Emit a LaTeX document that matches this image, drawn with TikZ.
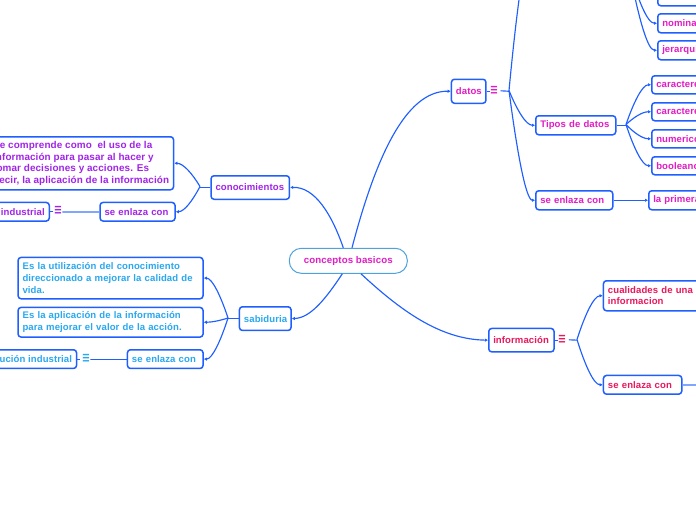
\documentclass[tikz,border=0pt]{standalone}
\usepackage{fontspec}
\setmainfont{Liberation Sans}[LetterSpace=1]
\newfontfamily\iconfont{DejaVu Sans}
\usetikzlibrary{arrows.meta,calc}
\definecolor{linkc}{HTML}{1F5FFF}
\definecolor{lightc}{HTML}{80A6FF}
\definecolor{rootb}{HTML}{4FA3DC}
\definecolor{cdat}{HTML}{E01CC4}
\definecolor{ccon}{HTML}{A024E8}
\definecolor{csab}{HTML}{28A8F0}
\definecolor{cinf}{HTML}{E8185C}
\newcommand{\menuicon}{\scalebox{1}[1.7]{≡}}
\tikzset{
  x=1pt,y=-1pt,
  base/.style={draw=linkc,line width=1.5pt,rounded corners=3pt,fill=white,inner ysep=0pt,inner xsep=4.5pt,
    font=\fontsize{9.55}{11.6}\selectfont\bfseries},
  bx/.style 2 args={base,anchor=north west,text width=#1pt-9pt,minimum height=#2pt,align=left},
  lf/.style={base,anchor=north east,minimum height=#1pt},
  rootn/.style={draw=rootb,line width=1pt,rounded corners=12pt,fill=white,minimum width=118pt,minimum height=25pt,
    inner sep=0pt,text=cdat,font=\fontsize{9.7}{11.6}\selectfont\bfseries},
  link/.style={draw=linkc,line width=1.15pt},
  tip/.style={-{Latex[length=3pt,width=3.5pt]}},
  lightlink/.style={draw=lightc,line width=1.5pt},
  icon/.style={inner sep=0pt,font=\fontsize{10}{10}\selectfont\iconfont},
}
\newcommand{\fork}[2]{\draw[link,tip] let \p1=(#1),\p2=(#2) in (\p1) .. controls ({\x1+0.3*(\x2-\x1)},{\y1+0.55*(\y2-\y1)}) and ({\x2-0.35*(\x2-\x1)},\y2) .. (\p2);}
\begin{document}
\begin{tikzpicture}
\useasboundingbox (0,0) rectangle (696,520);
\begin{scope}
\clip (0,0) rectangle (696,520);
% root
\node[rootn] (root) at (348.3,260.8) {conceptos basicos};
% datos
\node[bx={34.5}{24},text=cdat] (datos) at (450.7,78.5) {datos};
\node[bx={80}{19},text=cdat] (tipos) at (535,115) {Tipos de datos};
\node[bx={77}{19},text=cdat] (enlD) at (535,190) {se enlaza con};
\node[bx={120}{19},text=cdat] (prim) at (648,190) {la primera};
\node[bx={80}{18},text=cdat] (car1) at (651,75) {caracteres};
\node[bx={80}{18},text=cdat] (car2) at (651,102) {caracteres};
\node[bx={80}{18},text=cdat] (num) at (651,129) {numerico};
\node[bx={80}{18},text=cdat] (bool) at (651,156) {booleano};
\node[bx={80}{19},text=cdat] (nom) at (657,13) {nominal};
\node[bx={80}{19},text=cdat] (jer) at (657,40) {jerarquico};
\node[bx={80}{19}] (top) at (657,-14) {};
\node[icon,text=cdat] (icD) at (494,90.8) {\menuicon};
\coordinate (fkD) at (509,90.5);
\coordinate (fkT) at (626,124.5);
\coordinate (fkU) at (629,-32);
\coordinate (upD) at (535,-60);
% conocimientos
\node[bx={78.4}{23.5},text=ccon] (con) at (210.3,175) {conocimientos};
\node[base,anchor=north east,minimum height=53pt,align=left,text=ccon,font=\fontsize{9.9}{11.6}\selectfont\bfseries] (conT) at (174.3,136)
  {Se comprende como\ \ el uso de la\\información para pasar al hacer y\\tomar decisiones y acciones. Es\\decir, la aplicación de la información};
\node[bx={75}{18.6},text=ccon] (enlC) at (99.3,201.7) {se enlaza con};
\node[lf=18.6,text=ccon] (indC) at (50,201.7) {revolución industrial};
\node[icon,text=ccon] (icC) at (58,211) {\menuicon};
\coordinate (fkC) at (200,186.5);
% sabiduria
\node[bx={51.6}{23.7},text=csab] (sab) at (238.7,306) {sabiduria};
\node[bx={185}{41.3},text=csab] (sab1) at (17.3,256.7) {Es la utilización del conocimiento\\direccionado a mejorar la calidad de\\vida.};
\node[bx={185}{29.6},text=csab] (sab2) at (17.3,306.7) {Es la aplicación de la información\\para mejorar el valor de la acción.};
\node[bx={75.6}{18.7},text=csab] (enlS) at (126.7,349) {se enlaza con};
\node[lf=18.7,text=csab] (indS) at (77.3,349) {revolución industrial};
\node[icon,text=csab] (icS) at (86,358.5) {\menuicon};
\coordinate (fkS) at (228,318);
% informacion
\node[bx={65.3}{23.4},text=cinf] (inf) at (488,327.7) {información};
\node[bx={120}{30},text=cinf] (cual) at (602.7,280) {cualidades de una\\informacion};
\node[bx={78.3}{18.7},text=cinf] (enlI) at (602.7,374.7) {se enlaza con};
\node[icon,text=cinf] (icI) at (562,339.8) {\menuicon};
\coordinate (fkI) at (577,339.5);
\coordinate (offI) at (700,384);
% root links
\draw[link,tip] ($(root.north)+(3.7,0)$) .. controls (375,160) and (405,90.5) .. (datos.west);
\draw[link,tip] ($(root.north)+(-5,0)$) .. controls (332,215) and (315,186.5) .. (con.east);
\draw[link,tip] ($(root.south)+(-6,0)$) .. controls (325,300) and (310,318) .. (sab.east);
\draw[link,tip] ($(root.south)+(12.7,0)$) .. controls (400,310) and (440,339.5) .. (inf.west);
% datos links
\draw[link] (datos.east) -- +(3,0);
\draw[link] (icD.east -| datos.east) ++(14,0) -- (fkD |- datos.east);
\fork{fkD}{upD}
\fork{fkD}{tipos.west}
\fork{fkD}{enlD.west}
\draw[link] (tipos.east) -- (fkT |- tipos.east);
\fork{fkT}{car1.west}
\fork{fkT}{car2.west}
\fork{fkT}{num.west}
\fork{fkT}{bool.west}
\fork{fkU}{top.west}
\fork{fkU}{nom.west}
\fork{fkU}{jer.west}
\draw[link,tip] (enlD.east) -- (prim.west);
% conocimientos links
\draw[link] (con.west) -- (fkC |- con.west);
\fork{fkC}{conT.east}
\fork{fkC}{enlC.east}
\draw[lightlink] (enlC.west) -- (enlC.west -| icC.east) -- ++(2,0);
\draw[link] (indC.east) -- +(2.5,0);
% sabiduria links
\draw[link] (sab.west) -- (fkS |- sab.west);
\fork{fkS}{sab1.east}
\fork{fkS}{sab2.east}
\fork{fkS}{enlS.east}
\draw[link] (enlS.west) -- (enlS.west -| icS.east) -- ++(2,0);
\draw[link] (indS.east) -- +(2.5,0);
% informacion links
\draw[link] (inf.east) -- +(3,0);
\draw[link] (icI.east -| inf.east) ++(14,0) -- (fkI |- inf.east);
\fork{fkI}{cual.west}
\fork{fkI}{enlI.west}
\draw[lightlink] (enlI.east) -- (enlI.east -| offI);
\end{scope}
\end{tikzpicture}
\end{document}
